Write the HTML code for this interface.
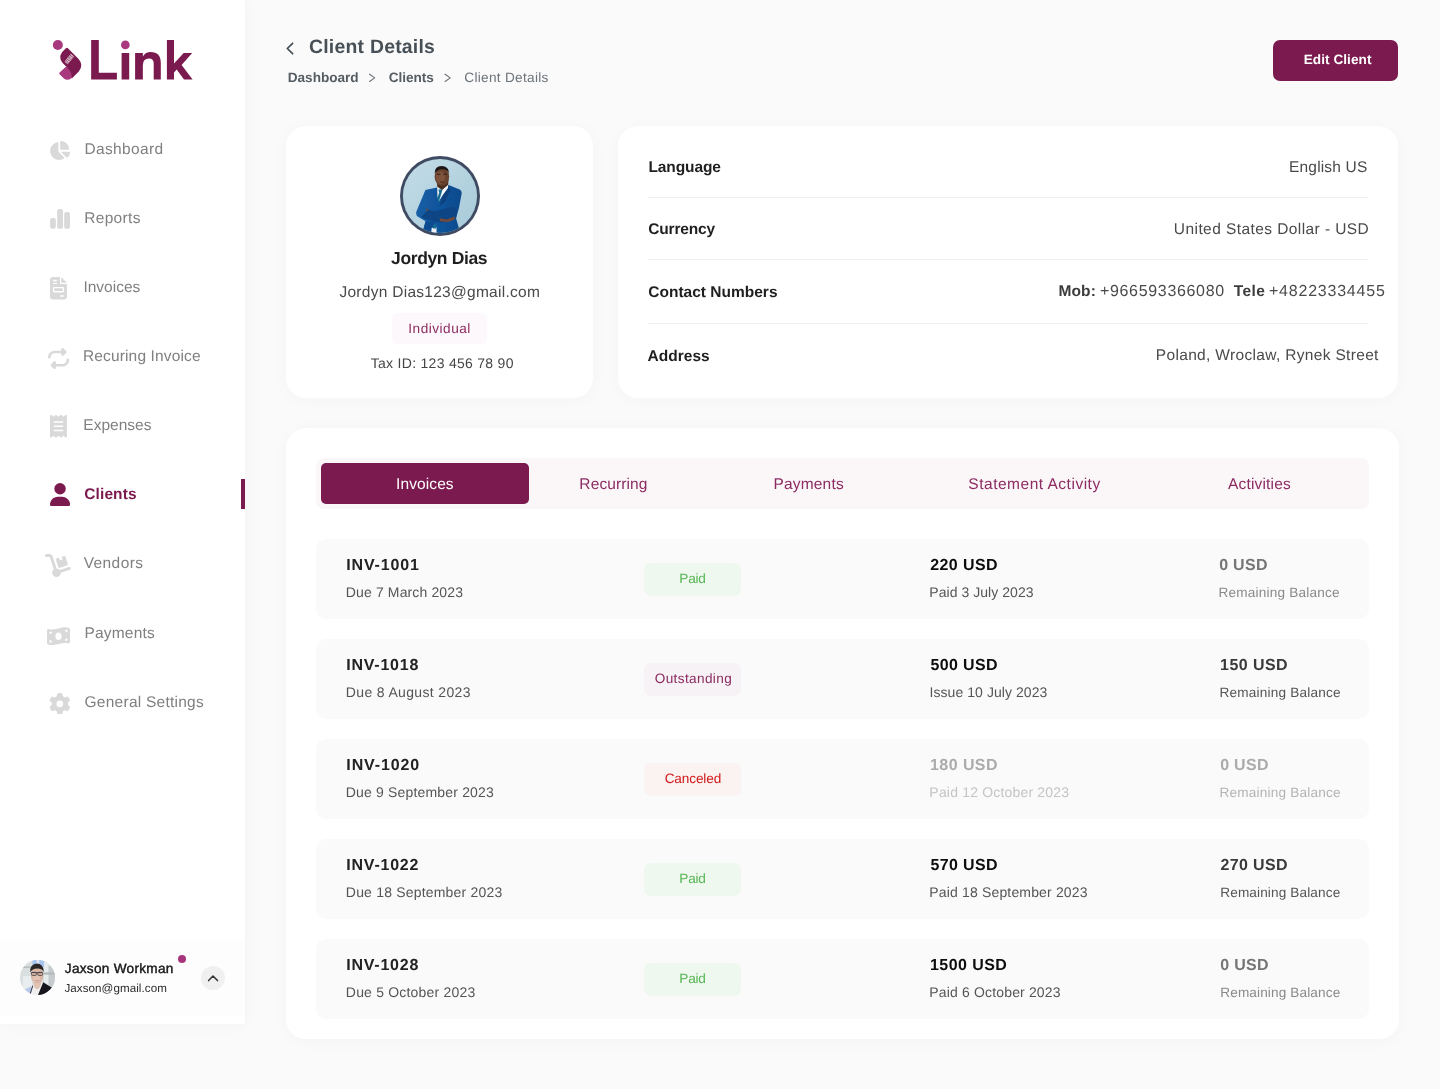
<!DOCTYPE html>
<html lang="en"><head><meta charset="utf-8"><title>Client Details</title>
<style>
html,body{margin:0;padding:0}
body{width:1440px;height:1089px;position:relative;overflow:hidden;background:#fafafa;font-family:"Liberation Sans",sans-serif;}
.abs{position:absolute}
.t{position:absolute;white-space:nowrap;line-height:20px;display:block;text-rendering:geometricPrecision}
.card{position:absolute;background:#fff;border-radius:20px;box-shadow:0 2px 18px rgba(0,0,0,.028)}
.row{position:absolute;left:316.25px;width:1052.5px;height:79.5px;border-radius:10px;background:#fafafa}
.chip{position:absolute;left:644.25px;width:96.75px;height:32.75px;border-radius:7px}
#txt{position:absolute;left:0;top:0;width:1440px;height:1089px;will-change:transform}
.hr{position:absolute;left:648px;width:720px;height:1px;background:#efefef}
</style></head>
<body>
<div class="abs" style="left:0;top:0;width:245px;height:1024px;background:#fff;box-shadow:0 0 16px rgba(0,0,0,.035)"></div>
<div class="abs" style="left:0;top:939px;width:245px;height:77px;background:#fdfdfd"></div>
<svg class="abs" style="left:40px;top:30px" width="170" height="60" viewBox="40 30 170 60">
<circle cx="57.85" cy="45" r="5" fill="#a8397e"/>
<path fill="#a8397e" d="M66.2 66.4 L59.6 72.6 Q58.8 73.4 59.6 74.2 L63.6 78.2 Q67.4 81.3 71.3 78.2 L72.8 76.8 Q73 70 66.2 66.4 Z"/>
<path fill="#7b1a4f" d="M65.9 48.3 Q66.9 47.3 67.9 48.3 L78.6 59 Q84 65.2 78.8 71.4 L71.8 78.4 Q72.2 72.6 67.2 67.6 L62.4 62.8 Q58 57.6 62.4 51.8 Z"/>
<g stroke="#fff" stroke-width="0.62" fill="none">
<path d="M65 61.6 L70.9 54.2 M65.9 62.4 L71.9 55 M66.8 63.1 L72.8 55.8 M67.6 63.8 L73.6 56.6"/>
<path d="M65 61.6 L67.6 63.8 M66.4 59.8 L69 62 M67.8 58 L70.5 60.2 M69.3 56.2 L72 58.4 M70.9 54.2 L73.6 56.6"/>
</g>
<path fill="#7b1a4f" d="M91.15 39.9 H98.8 V72.8 H116.9 V79.5 H91.15 Z"/>
<rect x="121.6" y="53" width="7.6" height="26.5" fill="#7b1a4f"/>
<circle cx="125.35" cy="44.9" r="4.35" fill="#a8397e"/>
<path fill="#7b1a4f" d="M135.1 53 H142.85 V56.4 Q145.6 52.1 150.6 52.1 Q160.8 52.1 160.8 63 V79.5 H153.7 V63.6 Q153.7 58.6 148.9 58.6 Q142.85 58.6 142.85 65.4 V79.5 H135.1 Z"/>
<path fill="#7b1a4f" d="M166.9 39.9 H174 V63.6 L183.7 53 H192.2 L181.6 65.1 L192.6 79.5 H184 L176.7 69.6 L174 72.4 V79.5 H166.9 Z"/>
</svg>
<svg class="abs" style="left:48.9px;top:140.8px" width="21.25" height="18.9" viewBox="0 0 576 512"><path fill="#d9d9d9" d="M304 240V16.600c0-9 7-16.600 16-16.600C443.700 0 544 100.300 544 224c0 9-7.600 16-16.600 16H304zM32 272C32 150.700 122.100 50.300 239 34.300c9.200-1.300 17 6.100 17 15.400V288L412.500 444.500c6.700 6.700 6.200 17.700-1.500 23.100C371.800 495.600 323.800 512 272 512C139.500 512 32 404.600 32 272zm526.400 16c9.300 0 16.600 7.800 15.400 17c-7.700 55.900-34.600 105.600-73.900 142.300c-6 5.600-15.400 5.200-21.200-.7L320 288H558.400z"/></svg>
<svg class="abs" style="left:50px;top:208px" width="21" height="22" viewBox="50 208 21 22"><rect x="50.1" y="217.9" width="5.7" height="10.8" rx="1.9" fill="#d9d9d9"/><rect x="57.2" y="209" width="5.8" height="19.7" rx="1.9" fill="#d9d9d9"/><rect x="64.2" y="212" width="5.8" height="16.7" rx="1.9" fill="#d9d9d9"/></svg>
<svg class="abs" style="left:50.1px;top:277.1px" width="16.95" height="22.6" viewBox="0 0 384 512"><path fill="#d9d9d9" d="M64 0C28.700 0 0 28.700 0 64V448c0 35.300 28.700 64 64 64H320c35.300 0 64-28.700 64-64V160H256c-17.700 0-32-14.300-32-32V0H64zM256 0V128H384L256 0zM80 64h64c8.800 0 16 7.200 16 16s-7.200 16-16 16H80c-8.800 0-16-7.200-16-16s7.200-16 16-16zm0 64h64c8.800 0 16 7.200 16 16s-7.200 16-16 16H80c-8.800 0-16-7.200-16-16s7.200-16 16-16zm16 96H288c17.700 0 32 14.300 32 32v64c0 17.700-14.300 32-32 32H96c-17.700 0-32-14.300-32-32V256c0-17.700 14.300-32 32-32zm0 32v64H288V256H96zM240 416h64c8.800 0 16 7.200 16 16s-7.200 16-16 16H240c-8.800 0-16-7.200-16-16s7.200-16 16-16z"/></svg>
<svg class="abs" style="left:47.9px;top:347.9px" width="21.2" height="21.2" viewBox="0 0 512 512"><path fill="#d9d9d9" d="M0 224c0 17.700 14.300 32 32 32s32-14.300 32-32c0-53 43-96 96-96H320v32c0 12.900 7.800 24.600 19.800 29.600s25.700 2.200 34.900-6.900l64-64c12.500-12.500 12.500-32.800 0-45.300l-64-64c-9.200-9.200-22.900-11.900-34.900-6.900S320 19.100 320 32V64H160C71.600 64 0 135.600 0 224zm512 64c0-17.700-14.300-32-32-32s-32 14.300-32 32c0 53-43 96-96 96H192V352c0-12.900-7.800-24.600-19.800-29.600s-25.700-2.200-34.900 6.900l-64 64c-12.500 12.500-12.500 32.800 0 45.300l64 64c9.200 9.200 22.900 11.900 34.900 6.900s19.800-16.600 19.800-29.600V448H352c88.400 0 160-71.600 160-160z"/></svg>
<svg class="abs" style="left:50.1px;top:415.2px" width="16.95" height="22.6" viewBox="0 0 384 512"><path fill="#d9d9d9" d="M14 2.200C22.500-1.700 32.500-.3 39.600 5.800L80 40.400 120.400 5.800c9-7.700 22.300-7.700 31.200 0L192 40.400 232.400 5.800c9-7.700 22.200-7.700 31.200 0L304 40.400 344.400 5.800c7.100-6.100 17.100-7.500 25.600-3.600s14 12.400 14 21.800V488c0 9.400-5.500 17.900-14 21.800s-18.500 2.500-25.600-3.600L304 471.600l-40.400 34.600c-9 7.700-22.200 7.700-31.200 0L192 471.600l-40.400 34.600c-9 7.700-22.300 7.700-31.200 0L80 471.600 39.600 506.200c-7.100 6.100-17.100 7.500-25.600 3.600S0 497.400 0 488V24C0 14.600 5.500 6.100 14 2.200zM96 144c-8.800 0-16 7.200-16 16s7.200 16 16 16H288c8.800 0 16-7.200 16-16s-7.200-16-16-16H96zM80 352c0 8.800 7.200 16 16 16H288c8.800 0 16-7.200 16-16s-7.200-16-16-16H96c-8.800 0-16 7.200-16 16zM96 240c-8.800 0-16 7.200-16 16s7.200 16 16 16H288c8.800 0 16-7.200 16-16s-7.200-16-16-16H96z"/></svg>
<svg class="abs" style="left:50.0px;top:483.0px" width="20.1" height="23.0" viewBox="0 0 448 512"><path fill="#7b1a4f" d="M224 256A128 128 0 1 0 224 0a128 128 0 1 0 0 256zm-45.700 48C79.800 304 0 383.800 0 482.300C0 498.700 13.300 512 29.700 512H418.300c16.400 0 29.700-13.300 29.700-29.700C448 383.800 368.200 304 269.700 304H178.300z"/></svg>
<svg class="abs" style="left:45.0px;top:554.0px" width="25.9" height="23.0" viewBox="0 0 576 512"><path fill="#d9d9d9" d="M0 32C0 14.300 14.300 0 32 0h72.900c27.500 0 52 17.600 60.700 43.800L257.700 320c30.100 .5 56.800 14.900 74 37l202.100-67.400c16.800-5.600 34.900 3.500 40.500 20.200s-3.500 34.900-20.200 40.500L352 417.700c-.9 52.200-43.500 94.300-96 94.300c-53 0-96-43-96-96c0-30.800 14.500-58.200 37-75.800L104.900 64H32C14.300 64 0 49.700 0 32zM244.800 134.500c-5.500-16.800 3.700-34.900 20.500-40.300L311 79.400l19.800 60.900 60.900-19.800L371.800 59.600l45.700-14.800c16.800-5.500 34.900 3.700 40.300 20.500l49.400 152.200c5.500 16.800-3.700 34.900-20.500 40.300L334.500 307.200c-16.800 5.500-34.900-3.700-40.300-20.500L244.800 134.500z"/></svg>
<svg class="abs" style="left:47.0px;top:625.7px" width="23.0" height="20.45" viewBox="0 0 576 512"><path fill="#d9d9d9" d="M0 112.500V422.300c0 18 10.100 35 27 41.300c87 32.500 174 10.300 261-11.900c79.800-20.300 159.600-40.700 239.300-18.900c23 6.300 48.700-9.500 48.700-33.400V89.700c0-18-10.100-35-27-41.300C462 15.900 375 38.100 288 60.300C208.200 80.600 128.400 100.900 48.700 79.100C25.600 72.800 0 88.600 0 112.500zM288 352c-44.200 0-80-43-80-96s35.800-96 80-96s80 43 80 96s-35.800 96-80 96zM64 352c35.300 0 64 28.700 64 64H64V352zm64-208c0 35.300-28.700 64-64 64V144h64zM512 304v64H448c0-35.300 28.700-64 64-64zM448 96h64v64c-35.300 0-64-28.700-64-64z"/></svg>
<svg class="abs" style="left:49.4px;top:692.9px" width="21.6" height="21.6" viewBox="0 0 512 512"><path fill="#d9d9d9" d="M495.900 166.600c3.200 8.700 .5 18.400-6.400 24.600l-43.300 39.400c1.100 8.300 1.700 16.800 1.700 25.400s-.6 17.100-1.700 25.400l43.300 39.400c6.900 6.200 9.600 15.900 6.400 24.600c-4.400 11.900-9.700 23.300-15.800 34.300l-4.700 8.100c-6.600 11-14 21.400-22.100 31.200c-5.900 7.200-15.700 9.600-24.500 6.800l-55.700-17.700c-13.400 10.300-28.200 18.900-44 25.400l-12.500 57.100c-2 9.100-9 16.300-18.200 17.800c-13.800 2.300-28 3.500-42.500 3.500s-28.700-1.200-42.500-3.500c-9.200-1.500-16.200-8.700-18.200-17.800l-12.500-57.100c-15.800-6.500-30.600-15.100-44-25.400L83.100 425.900c-8.800 2.800-18.600 .3-24.500-6.800c-8.100-9.800-15.500-20.200-22.100-31.200l-4.700-8.100c-6.100-11-11.400-22.400-15.800-34.300c-3.200-8.700-.5-18.400 6.400-24.600l43.300-39.400C64.600 273.100 64 264.600 64 256s.6-17.100 1.700-25.400L22.400 191.200c-6.900-6.200-9.600-15.900-6.400-24.600c4.400-11.900 9.700-23.300 15.800-34.300l4.700-8.100c6.600-11 14-21.400 22.100-31.200c5.900-7.200 15.700-9.600 24.500-6.800l55.700 17.700c13.400-10.300 28.200-18.900 44-25.400l12.500-57.100c2-9.100 9-16.300 18.200-17.800C227.300 1.200 241.500 0 256 0s28.700 1.200 42.500 3.500c9.200 1.500 16.200 8.700 18.200 17.800l12.500 57.100c15.800 6.500 30.600 15.100 44 25.400l55.700-17.700c8.800-2.800 18.600-.3 24.500 6.800c8.100 9.800 15.500 20.200 22.100 31.200l4.700 8.100c6.100 11 11.400 22.400 15.800 34.300zM256 336a80 80 0 1 0 0-160 80 80 0 1 0 0 160z"/></svg>
<div class="abs" style="left:241px;top:479px;width:4px;height:30px;background:#7b1a4f"></div>
<svg class="abs" style="left:20px;top:960px" width="35" height="35" viewBox="0 0 35 35">
<defs><clipPath id="ua"><circle cx="17.5" cy="17.5" r="17.5"/></clipPath>
<filter id="uf" x="-5%" y="-5%" width="110%" height="110%"><feGaussianBlur stdDeviation="0.45"/></filter></defs>
<g clip-path="url(#ua)"><rect width="35" height="35" fill="#d9dedf"/>
<g filter="url(#uf)">
<rect x="12.4" y="-1" width="12" height="8" fill="#a6c3ee"/>
<rect x="16.6" y="-1" width="2.6" height="5" fill="#dfe8f2"/>
<rect x="2" y="6.4" width="9" height="1.6" fill="#b9c0bf"/>
<rect x="3" y="16" width="9" height="15" fill="#e8edef"/>
<rect x="24" y="2" width="4.6" height="32" fill="#e6ebed"/>
<rect x="28.6" y="6" width="7" height="22" fill="#c6cccd"/>
<rect x="24" y="12.4" width="11" height="2.2" fill="#b4babb"/>
<path d="M4.4 29.6 L11.6 26.2 L13.4 36 L2 36 Z" fill="#b8c9e8"/>
<path d="M10.4 36 L12.6 25 L23.4 22.6 L26 36 Z" fill="#f0f0f1"/>
<path d="M17.6 36 L23.2 22.2 L32.4 28 L27 36 Z" fill="#14161b"/>
<path d="M10.2 34 L12.8 25.6" stroke="#23262d" stroke-width="0.9"/>
<path d="M13.4 22 L21.4 21.4 L20.4 27 L17 29.6 L14.4 27.6 Z" fill="#e2c3b3"/>
<ellipse cx="17.1" cy="15.4" rx="6.3" ry="8" fill="#d9b6a5"/>
<ellipse cx="16.4" cy="18.4" rx="3.6" ry="3.4" fill="#e3c4b4"/>
<path d="M10.2 12.4 Q9.6 4.6 16.4 3.6 Q23.6 3.8 24 12.2 Q22.4 8.4 17.2 8.4 Q12.4 8.6 10.2 12.4 Z" fill="#2b2727"/>
<path d="M11.2 12.6 H22.8" stroke="#3a3840" stroke-width="0.8"/>
<rect x="11.5" y="12.4" width="4.9" height="3" rx="1" fill="none" stroke="#3a3840" stroke-width="0.8"/>
<rect x="17.8" y="12.4" width="4.9" height="3" rx="1" fill="none" stroke="#3a3840" stroke-width="0.8"/>
<path d="M15 20.6 H19.2" stroke="#b98d7c" stroke-width="0.7"/>
</g></g></svg>
<div class="abs" style="left:177.9px;top:954.7px;width:8px;height:8px;border-radius:50%;background:#a8347b"></div>
<div class="abs" style="left:200.8px;top:965.8px;width:24px;height:24px;border-radius:50%;background:#f0f0f0"></div>
<svg class="abs" style="left:200.8px;top:965.8px" width="24" height="24" viewBox="0 0 24 24"><path d="M7.6 14.6 L12 10 L16.5 14.6" fill="none" stroke="#333" stroke-width="1.5" stroke-linecap="round" stroke-linejoin="round"/></svg>
<svg class="abs" style="left:283px;top:40px" width="14" height="17" viewBox="283 40 14 17"><path d="M292.6 43.3 L287.3 48.5 L292.6 53.7" fill="none" stroke="#454f57" stroke-width="1.75" stroke-linecap="round" stroke-linejoin="round"/></svg>
<svg class="abs" style="left:360px;top:68px" width="100" height="20" viewBox="360 68 100 20"><path d="M369.6 74.2 L374.7 77.85 L369.6 81.5 M445.1 74.2 L450.2 77.85 L445.1 81.5" fill="none" stroke="#6c737a" stroke-width="1.15" stroke-linecap="round" stroke-linejoin="round"/></svg>
<div class="abs" style="left:1273px;top:40px;width:125px;height:41px;border-radius:7px;background:#7b1a4f"></div>
<div class="card" style="left:286px;top:126px;width:307px;height:272px"></div>
<svg class="abs" style="left:400px;top:156px" width="80" height="80" viewBox="10 10 80 80">
<defs><clipPath id="pa"><circle cx="50" cy="50" r="37.1"/></clipPath>
<linearGradient id="pbg" x1="0" y1="0" x2="1" y2="1"><stop offset="0" stop-color="#c4dde7"/><stop offset="1" stop-color="#a6c9d8"/></linearGradient>
<linearGradient id="suit" x1="0" y1="0" x2="1" y2="0"><stop offset="0" stop-color="#165fa6"/><stop offset=".55" stop-color="#10539a"/><stop offset="1" stop-color="#0d4a8c"/></linearGradient>
<filter id="sf" x="-5%" y="-5%" width="110%" height="110%"><feGaussianBlur stdDeviation="0.45"/></filter></defs>
<circle cx="50" cy="50" r="40" fill="#3f4b63"/>
<g clip-path="url(#pa)"><rect x="10" y="10" width="80" height="80" fill="url(#pbg)"/>
<g filter="url(#sf)">
<path d="M35.4 44 L46.9 41.4 L52 47 L58.7 39 L70.2 43.8 Q72.2 45.4 71.5 48.5 L68.8 62.8 L66 72 L69.4 84 L60 92 L31 92 L35.6 75.2 L27.6 70.6 Q25.6 68.6 26.4 65.4 Z" fill="url(#suit)"/>
<path d="M38 63.6 L45 65.6 L62 60.4 L67.6 63.6 L66 72.4 L52 76.6 L44 75.8 L31 71.6 Z" fill="#0b4585"/>
<path d="M46.9 41.4 L47.6 56 L52.6 49 Z" fill="#0c4688"/>
<path d="M58.7 39 L53 49.5 L49.6 60 L55 55.6 L60.4 44.6 Z" fill="#0b3f7c"/>
<path d="M35.6 75.2 L45 76.6 L43.6 82 L41 92 L31 92 Z" fill="#0e4c90"/>
<path d="M47.2 41.2 L52 44.2 L58.2 38.8 L58 42 L52.8 49 L48.4 56 L47.4 50 Z" fill="#f3f5f7"/>
<path d="M48.4 43.4 L52.4 43.6 L51.8 46 L50.6 50 L48.6 56.6 L47.4 52 L49.2 46.4 Z" fill="#176d92"/>
<path d="M41.6 82 L46.4 81 L46.8 92 L41 92 Z" fill="#eef1f4"/>
<path d="M43.4 78.4 L46.2 78 L46 82.4 L43 82.6 Z" fill="#176d92"/>
<path d="M49.7 72.2 L57 73.4 L64.8 70.6 L64.4 73.4 L58 76 L50 75.2 Z" fill="#7a4a35"/>
<path d="M36.4 63 L38.2 62.6 L38.2 64.8 L36.6 65 Z" fill="#7a4a35"/>
<path d="M47 33 L47.2 40.4 L52 44 L58.2 38.8 L58.4 33 Z" fill="#4b2d20"/>
<ellipse cx="51.9" cy="30.6" rx="7.3" ry="9.5" fill="#69432f"/>
<ellipse cx="50.6" cy="31.5" rx="4.6" ry="6.2" fill="#7d523b"/>
<path d="M44.6 27.6 Q44.4 20.2 51.6 19.9 Q58.8 20.2 59.3 27.4 Q57 23.2 52 23.3 Q47 23.4 44.6 27.6 Z" fill="#1f1815"/>
<path d="M47 28.4 L50.4 28.2 M53.4 28.2 L56.8 28.2" stroke="#2a1a14" stroke-width="0.9"/>
<path d="M50 36 L54.4 36" stroke="#3a2018" stroke-width="0.8"/>
</g></g></svg>
<div class="abs" style="left:392px;top:313px;width:95px;height:30.5px;border-radius:6px;background:#fcf8fb"></div>
<div class="card" style="left:618px;top:126px;width:780px;height:272px"></div>
<div class="hr" style="top:197px"></div>
<div class="hr" style="top:259px"></div>
<div class="hr" style="top:323px"></div>
<div class="card" style="left:286px;top:428px;width:1113px;height:611px"></div>
<div class="abs" style="left:316.25px;top:458px;width:1052.5px;height:50.75px;border-radius:8px;background:#fbf7f9"></div>
<div class="abs" style="left:321px;top:463px;width:208px;height:40.75px;border-radius:5px;background:#7b1a4f"></div>
<div class="row" style="top:539.25px"></div>
<div class="chip" style="top:563.0px;background:#eff8ef"></div>
<div class="row" style="top:639.25px"></div>
<div class="chip" style="top:663.0px;background:#f7f2f5"></div>
<div class="row" style="top:739.25px"></div>
<div class="chip" style="top:763.0px;background:#fbf2f2"></div>
<div class="row" style="top:839.25px"></div>
<div class="chip" style="top:863.0px;background:#eff8ef"></div>
<div class="row" style="top:939.25px"></div>
<div class="chip" style="top:963.0px;background:#eff8ef"></div>
<div id="txt">
<span class="t" style="left:84.47px;top:140.20px;font-size:15.5px;color:#808080;letter-spacing:0.346px;">Dashboard</span>
<span class="t" style="left:84.15px;top:209.30px;font-size:15.5px;color:#808080;letter-spacing:0.336px;">Reports</span>
<span class="t" style="left:83.48px;top:278.20px;font-size:15.5px;color:#808080;letter-spacing:-0.013px;">Invoices</span>
<span class="t" style="left:82.98px;top:347.20px;font-size:15.5px;color:#808080;letter-spacing:0.143px;">Recuring Invoice</span>
<span class="t" style="left:83.34px;top:416.00px;font-size:15.5px;color:#808080;letter-spacing:0.005px;">Expenses</span>
<span class="t" style="left:84.32px;top:485.20px;font-size:15.5px;color:#7b1a4f;font-weight:700;letter-spacing:0.089px;">Clients</span>
<span class="t" style="left:83.74px;top:554.00px;font-size:15.5px;color:#808080;letter-spacing:0.388px;">Vendors</span>
<span class="t" style="left:84.48px;top:623.80px;font-size:15.5px;color:#808080;letter-spacing:0.193px;">Payments</span>
<span class="t" style="left:84.57px;top:693.00px;font-size:15.5px;color:#808080;letter-spacing:0.248px;">General Settings</span>
<span class="t" style="left:64.86px;top:959.00px;font-size:13.6px;color:#141414;letter-spacing:0.285px;-webkit-text-stroke:0.4px #141414;">Jaxson Workman</span>
<span class="t" style="left:64.42px;top:979.00px;font-size:11.6px;color:#2b2b2b;letter-spacing:0.076px;">Jaxson@gmail.com</span>
<span class="t" style="left:309.00px;top:37.10px;font-size:19.4px;color:#485057;font-weight:700;letter-spacing:0.234px;">Client Details</span>
<span class="t" style="left:287.75px;top:67.90px;font-size:13.6px;color:#555c62;font-weight:700;letter-spacing:-0.015px;">Dashboard</span>
<span class="t" style="left:388.81px;top:67.90px;font-size:13.6px;color:#555c62;font-weight:700;letter-spacing:-0.034px;">Clients</span>
<span class="t" style="left:464.29px;top:67.90px;font-size:13.6px;color:#6c737a;letter-spacing:0.310px;">Client Details</span>
<span class="t" style="left:1303.66px;top:50.20px;font-size:13.6px;color:#ffffff;font-weight:700;letter-spacing:0.055px;">Edit Client</span>
<span class="t" style="left:391.07px;top:248.20px;font-size:17.5px;color:#1f1f1f;font-weight:700;letter-spacing:-0.371px;">Jordyn Dias</span>
<span class="t" style="left:339.44px;top:283.20px;font-size:15.5px;color:#4a4a4a;letter-spacing:0.275px;">Jordyn Dias123@gmail.com</span>
<span class="t" style="left:408.33px;top:319.00px;font-size:13.6px;color:#8c2c62;letter-spacing:0.503px;">Individual</span>
<span class="t" style="left:370.76px;top:353.00px;font-size:13.99px;color:#454545;letter-spacing:0.294px;">Tax ID: 123 456 78 90</span>
<span class="t" style="left:648.41px;top:157.50px;font-size:15.5px;color:#1f1f1f;font-weight:700;letter-spacing:-0.088px;">Language</span>
<span class="t" style="left:648.22px;top:219.50px;font-size:15.5px;color:#1f1f1f;font-weight:700;letter-spacing:-0.158px;">Currency</span>
<span class="t" style="left:648.22px;top:283.00px;font-size:15.5px;color:#1f1f1f;font-weight:700;letter-spacing:0.009px;">Contact Numbers</span>
<span class="t" style="left:647.43px;top:347.25px;font-size:15.5px;color:#1f1f1f;font-weight:700;letter-spacing:0.040px;">Address</span>
<span class="t" style="left:1289.10px;top:157.50px;font-size:15.5px;color:#4a4a4a;letter-spacing:0.161px;">English US</span>
<span class="t" style="left:1173.86px;top:219.50px;font-size:15.5px;color:#4a4a4a;letter-spacing:0.423px;">United States Dollar - USD</span>
<span class="t" style="left:1058.58px;top:282.25px;font-size:15.5px;color:#3c3c3c;font-weight:700;letter-spacing:0.077px;">Mob:</span>
<span class="t" style="left:1099.93px;top:282.25px;font-size:15.99px;color:#4a4a4a;letter-spacing:0.685px;">+966593366080</span>
<span class="t" style="left:1233.81px;top:282.25px;font-size:15.5px;color:#3c3c3c;font-weight:700;letter-spacing:0.400px;">Tele</span>
<span class="t" style="left:1269.00px;top:282.25px;font-size:15.99px;color:#4a4a4a;letter-spacing:0.786px;">+48223334455</span>
<span class="t" style="left:1155.82px;top:346.00px;font-size:15.5px;color:#4a4a4a;letter-spacing:0.330px;">Poland, Wroclaw, Rynek Street</span>
<span class="t" style="left:396.03px;top:475.25px;font-size:15.5px;color:#ffffff;letter-spacing:0.104px;">Invoices</span>
<span class="t" style="left:579.36px;top:475.25px;font-size:15.5px;color:#8c2c62;letter-spacing:0.113px;">Recurring</span>
<span class="t" style="left:773.49px;top:475.25px;font-size:15.5px;color:#8c2c62;letter-spacing:0.175px;">Payments</span>
<span class="t" style="left:968.36px;top:475.25px;font-size:15.5px;color:#8c2c62;letter-spacing:0.506px;">Statement Activity</span>
<span class="t" style="left:1227.97px;top:475.25px;font-size:15.5px;color:#8c2c62;letter-spacing:0.175px;">Activities</span>
<span class="t" style="left:346.34px;top:556.25px;font-size:15.99px;color:#222222;font-weight:700;letter-spacing:0.835px;">INV-1001</span>
<span class="t" style="left:345.85px;top:582.00px;font-size:13.99px;color:#555555;letter-spacing:0.136px;">Due 7 March 2023</span>
<span class="t" style="left:679.35px;top:569.00px;font-size:13.6px;color:#55b552;letter-spacing:-0.266px;">Paid</span>
<span class="t" style="left:930.16px;top:556.25px;font-size:15.99px;color:#0d0d0d;font-weight:700;letter-spacing:0.418px;">220 USD</span>
<span class="t" style="left:929.36px;top:582.00px;font-size:13.99px;color:#555555;letter-spacing:0.050px;">Paid 3 July 2023</span>
<span class="t" style="left:1219.13px;top:556.25px;font-size:15.99px;color:#757575;font-weight:700;letter-spacing:0.326px;">0 USD</span>
<span class="t" style="left:1218.38px;top:583.00px;font-size:13.6px;color:#8a8a8a;letter-spacing:0.201px;">Remaining Balance</span>
<span class="t" style="left:346.34px;top:656.25px;font-size:15.99px;color:#222222;font-weight:700;letter-spacing:0.758px;">INV-1018</span>
<span class="t" style="left:345.85px;top:682.00px;font-size:13.99px;color:#555555;letter-spacing:0.354px;">Due 8 August 2023</span>
<span class="t" style="left:654.73px;top:669.00px;font-size:13.6px;color:#8c2c62;letter-spacing:0.367px;">Outstanding</span>
<span class="t" style="left:930.58px;top:656.25px;font-size:15.99px;color:#0d0d0d;font-weight:700;letter-spacing:0.349px;">500 USD</span>
<span class="t" style="left:929.55px;top:682.00px;font-size:13.99px;color:#555555;letter-spacing:0.066px;">Issue 10 July 2023</span>
<span class="t" style="left:1220.12px;top:656.25px;font-size:15.99px;color:#3a3a3a;font-weight:700;letter-spacing:0.426px;">150 USD</span>
<span class="t" style="left:1219.38px;top:683.00px;font-size:13.6px;color:#555555;letter-spacing:0.201px;">Remaining Balance</span>
<span class="t" style="left:346.34px;top:756.25px;font-size:15.99px;color:#222222;font-weight:700;letter-spacing:0.872px;">INV-1020</span>
<span class="t" style="left:345.85px;top:782.00px;font-size:13.99px;color:#555555;letter-spacing:0.176px;">Due 9 September 2023</span>
<span class="t" style="left:664.67px;top:769.00px;font-size:13.6px;color:#d01818;letter-spacing:-0.118px;">Canceled</span>
<span class="t" style="left:929.99px;top:756.25px;font-size:15.99px;color:#ababab;font-weight:700;letter-spacing:0.447px;">180 USD</span>
<span class="t" style="left:929.36px;top:782.00px;font-size:13.99px;color:#c4c4c4;letter-spacing:0.191px;">Paid 12 October 2023</span>
<span class="t" style="left:1220.13px;top:756.25px;font-size:15.99px;color:#ababab;font-weight:700;letter-spacing:0.326px;">0 USD</span>
<span class="t" style="left:1219.38px;top:783.00px;font-size:13.6px;color:#b4b4b4;letter-spacing:0.201px;">Remaining Balance</span>
<span class="t" style="left:346.34px;top:856.25px;font-size:15.99px;color:#222222;font-weight:700;letter-spacing:0.772px;">INV-1022</span>
<span class="t" style="left:345.85px;top:882.00px;font-size:13.99px;color:#555555;letter-spacing:0.197px;">Due 18 September 2023</span>
<span class="t" style="left:679.35px;top:869.00px;font-size:13.6px;color:#55b552;letter-spacing:-0.266px;">Paid</span>
<span class="t" style="left:930.58px;top:856.25px;font-size:15.99px;color:#0d0d0d;font-weight:700;letter-spacing:0.349px;">570 USD</span>
<span class="t" style="left:929.36px;top:882.00px;font-size:13.99px;color:#555555;letter-spacing:0.164px;">Paid 18 September 2023</span>
<span class="t" style="left:1220.51px;top:856.25px;font-size:15.99px;color:#3a3a3a;font-weight:700;letter-spacing:0.361px;">270 USD</span>
<span class="t" style="left:1220.25px;top:883.00px;font-size:13.6px;color:#555555;letter-spacing:0.130px;">Remaining Balance</span>
<span class="t" style="left:346.34px;top:956.25px;font-size:15.99px;color:#222222;font-weight:700;letter-spacing:0.758px;">INV-1028</span>
<span class="t" style="left:345.85px;top:982.00px;font-size:13.99px;color:#555555;letter-spacing:0.199px;">Due 5 October 2023</span>
<span class="t" style="left:679.35px;top:969.00px;font-size:13.6px;color:#55b552;letter-spacing:-0.266px;">Paid</span>
<span class="t" style="left:929.99px;top:956.25px;font-size:15.99px;color:#0d0d0d;font-weight:700;letter-spacing:0.448px;">1500 USD</span>
<span class="t" style="left:929.36px;top:982.00px;font-size:13.99px;color:#555555;letter-spacing:0.160px;">Paid 6 October 2023</span>
<span class="t" style="left:1220.30px;top:956.25px;font-size:15.99px;color:#757575;font-weight:700;letter-spacing:0.287px;">0 USD</span>
<span class="t" style="left:1220.25px;top:983.00px;font-size:13.6px;color:#8a8a8a;letter-spacing:0.130px;">Remaining Balance</span>
</div>
</body></html>
